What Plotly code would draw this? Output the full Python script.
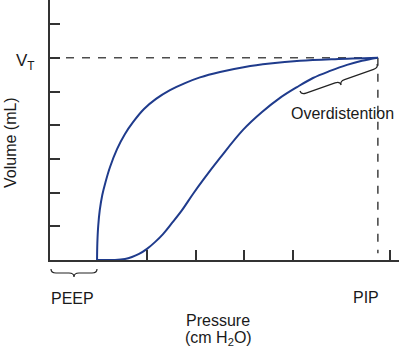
import math
import plotly.graph_objects as go

# ---- data (pressure in cm H2O, volume in mL) ----
PEEP = 4.85
PIP = 33.8
VT = 600

insp_pressure = [4.85, 5.67, 6.70, 7.73, 8.45, 9.18, 10.0, 10.82, 11.65, 12.58, 13.61,
                 14.74, 15.77, 17.53, 19.90, 21.86, 23.71, 25.46, 27.11, 28.87,
                 30.62, 32.16, 33.8]
insp_volume = [0, 0, 0, 3, 9, 18, 33, 53, 77, 110, 148,
               196, 237, 303, 386, 439, 481, 513, 540, 561,
               579, 591, 600]

exp_pressure = [4.85, 4.88, 4.97, 5.13, 5.39, 5.72, 6.19, 6.91, 7.73, 8.56, 9.69,
                10.93, 12.37, 13.92, 15.46, 17.53, 20.10, 22.68, 25.77, 29.38, 33.8]
exp_volume = [0, 50, 101, 148, 193, 231, 276, 329, 374, 409, 448,
              478, 504, 525, 542, 558, 573, 583, 591, 596, 600]

x_tickvals = [10, 15, 20, 25, 35]
y_tickvals = [100, 200, 300, 400, 500, 600, 700]

# ---- layout geometry ----
W, H = 399, 351
L, R, T, B = 50, 0, 0, 91
PW, PH = W - L - R, H - T - B
X_MAX = PW / 9.7
Y_MAX = PH / 0.337

FONT = "Liberation Sans, Arial, sans-serif"
CURVE = "#1f3b8c"
AX = "#333333"
TXT = "#1a1a1a"


def to_paper(px, py):
    return (px - L) / PW, (T + PH - py) / PH


def brace_path(ax, ay, bx, by, nx, ny, h, r):
    dx, dy = bx - ax, by - ay
    ln = math.hypot(dx, dy)
    ux, uy = dx / ln, dy / ln
    mx, my = ax + dx / 2, ay + dy / 2

    def p(x, y):
        a, b = to_paper(x, y)
        return f"{a:.5f},{b:.5f}"

    hh = h / 2
    pts = [
        "M " + p(ax, ay),
        "Q " + p(ax + nx * hh, ay + ny * hh) + " " + p(ax + ux * r + nx * hh, ay + uy * r + ny * hh),
        "L " + p(mx - ux * r + nx * hh, my - uy * r + ny * hh),
        "Q " + p(mx + nx * hh, my + ny * hh) + " " + p(mx + nx * h, my + ny * h),
        "Q " + p(mx + nx * hh, my + ny * hh) + " " + p(mx + ux * r + nx * hh, my + uy * r + ny * hh),
        "L " + p(bx - ux * r + nx * hh, by - uy * r + ny * hh),
        "Q " + p(bx + nx * hh, by + ny * hh) + " " + p(bx, by),
    ]
    return " ".join(pts)


fig = go.Figure()

# dashed guides
fig.add_trace(go.Scatter(x=[0, PIP], y=[VT, VT], mode="lines",
                         line=dict(color="#4d4d4d", width=1.6, dash="8px,8px"),
                         hoverinfo="skip", showlegend=False))
fig.add_trace(go.Scatter(x=[PIP, PIP], y=[VT, 20], mode="lines",
                         line=dict(color="#4d4d4d", width=1.6, dash="8px,8px"),
                         hoverinfo="skip", showlegend=False))

# loops
fig.add_trace(go.Scatter(x=insp_pressure, y=insp_volume, mode="lines",
                         line=dict(color=CURVE, width=2, shape="spline", smoothing=1),
                         showlegend=False))
fig.add_trace(go.Scatter(x=exp_pressure, y=exp_volume, mode="lines",
                         line=dict(color=CURVE, width=2, shape="spline", smoothing=1),
                         showlegend=False))

fig.update_layout(
    width=W, height=H,
    margin=dict(l=L, r=R, t=T, b=B, pad=0),
    paper_bgcolor="white", plot_bgcolor="white",
    font=dict(family=FONT, size=16, color=TXT),
    xaxis=dict(range=[0, X_MAX], showline=True, linecolor=AX, linewidth=1.5,
               ticks="inside", ticklen=10, tickwidth=1.5, tickcolor=AX,
               tickvals=x_tickvals, showticklabels=False,
               showgrid=False, zeroline=False, fixedrange=True),
    yaxis=dict(range=[0, Y_MAX], showline=True, linecolor=AX, linewidth=1.5,
               ticks="inside", ticklen=10, tickwidth=1.5, tickcolor=AX,
               tickvals=y_tickvals, showticklabels=False,
               showgrid=False, zeroline=False, fixedrange=True),
)

ann = [
    ("V<sub>T</sub>", 25, 62, 0, 17),
    ("Volume (mL)", 10, 143, -90, 16),
    ("PEEP", 72.5, 298, 0, 16),
    ("PIP", 366, 297, 0, 16),
    ("Pressure", 218, 320, 0, 16),
    ("(cm H<sub>2</sub>O)", 218, 338, 0, 16),
    ("Overdistention", 342, 113, 0, 16),
]
for text, px, py, ang, fs in ann:
    xp, yp = to_paper(px, py)
    fig.add_annotation(text=text, x=xp, y=yp, xref="paper", yref="paper",
                       xanchor="center", yanchor="middle", showarrow=False,
                       textangle=ang, font=dict(family=FONT, size=fs, color=TXT))

fig.add_shape(type="path", xref="paper", yref="paper",
              path=brace_path(51, 269, 97, 269, 0, 1, 8, 5),
              line=dict(color="#222222", width=1.2))
fig.add_shape(type="path", xref="paper", yref="paper",
              path=brace_path(300, 91, 377, 64, 0.33, 0.94, 8, 5),
              line=dict(color="#222222", width=1.2))

fig.write_html("out.html")
